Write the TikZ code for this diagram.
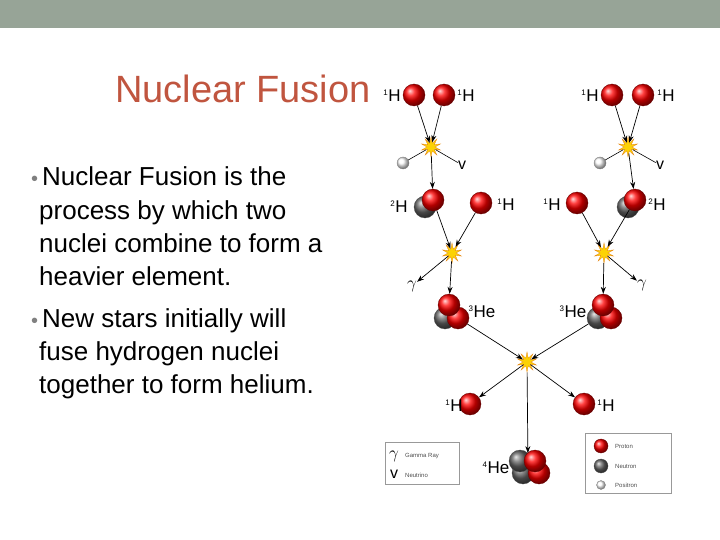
\documentclass[tikz,border=0pt]{standalone}
\usepackage{fontspec}
\setmainfont{Liberation Sans}
\usetikzlibrary{arrows.meta,shapes.geometric}
\definecolor{bar}{HTML}{97A497}
\definecolor{ttl}{HTML}{C0553F}
\newcommand{\sy}[1]{\textsuperscript{\footnotesize #1}}
\begin{document}
\begin{tikzpicture}[x=1pt,y=-1pt,
 pr/.style={circle,inner sep=0pt,minimum size=22pt,ball color=red,draw=red!40!black,line width=0.3pt},
 ne/.style={circle,inner sep=0pt,minimum size=22pt,ball color=gray!80!black,draw=black!70,line width=0.3pt},
 po/.style={circle,inner sep=0pt,minimum size=12pt,ball color=white,draw=gray,line width=0.3pt},
 lbl/.style={font=\fontsize{17}{17}\selectfont,inner sep=0pt},
 gr/.style={font=\fontsize{16}{16}\selectfont\rmfamily,inner sep=0pt},
 burst/.style={star,star points=10,star point ratio=2.5,minimum size=20pt,inner sep=0pt,fill=yellow!70!orange,draw=orange!60!brown,line width=0.3pt},
 ar/.style={-{Stealth[length=7pt,width=5pt]},line width=0.7pt},
 bul/.style={font=\fontsize{26}{26}\selectfont,anchor=base west,inner sep=0pt},
 leg/.style={font=\fontsize{6}{6}\selectfont,anchor=west,inner sep=0pt,text=black!70}]
\useasboundingbox (0,0) rectangle (720,540);
\fill[bar] (0,0) rectangle (720,28);
\node[font=\fontsize{38}{38}\selectfont,text=ttl,anchor=base west,inner sep=0pt] (title) at (115,103) {Nuclear Fusion};
\node[bul,text=gray] (b1) at (31,186) {\fontsize{20}{20}\selectfont•};
\node[bul] (t1) at (42,186) {Nuclear Fusion is the};
\node[bul] (t2) at (39,219) {process by which two};
\node[bul] (t3) at (39,252) {nuclei combine to form a};
\node[bul] (t4) at (39,285) {heavier element.};
\node[bul,text=gray] (b2) at (31,327) {\fontsize{20}{20}\selectfont•};
\node[bul] (t5) at (42,327) {New stars initially will};
\node[bul] (t6) at (39,360) {fuse hydrogen nuclei};
\node[bul] (t7) at (39,393) {together to form helium.};
% left chain
\node[lbl] (l1) at (392,96) {\sy{1}H};
\node[pr] (p1) at (414,95) {};
\node[pr] (p2) at (444,95) {};
\node[lbl] (l2) at (466,96) {\sy{1}H};
\node[burst] (s1) at (431,147) {};
\node[po] (e1) at (403,163) {};
\node[gr] (n1) at (462,165) {v};
\draw[ar] (p1) -- (s1); \draw[ar] (p2) -- (s1);
\draw[line width=0.6pt] (s1) -- (e1); \draw[line width=0.6pt] (s1) -- (n1);
\node[ne] (d1n) at (425,207) {};
\node[pr] (d1p) at (433,200) {};
\node[lbl] (l3) at (399,207) {\sy{2}H};
\draw[ar] (s1) -- (d1p);
\node[pr] (p3) at (481,203) {};
\node[lbl] (l4) at (506,205) {\sy{1}H};
\node[burst] (s2) at (452,253) {};
\draw[ar] (d1p) -- (s2); \draw[ar] (p3) -- (s2);
\node[gr] (g1) at (412,286) {$\gamma$};
\draw[ar] (s2) -- (g1);
\node[ne] (h1a) at (445,318) {};
\node[pr] (h1b) at (458,318) {};
\node[pr] (h1c) at (449,305) {};
\node[lbl] (l5) at (482,312) {\sy{3}He};
\draw[ar] (s2) -- (h1c);
% right chain
\node[lbl] (r1) at (590,96) {\sy{1}H};
\node[pr] (q1) at (612,95) {};
\node[pr] (q2) at (643,95) {};
\node[lbl] (r2) at (666,96) {\sy{1}H};
\node[burst] (s3) at (628,147) {};
\node[po] (e2) at (600,163) {};
\node[gr] (n2) at (660,165) {v};
\draw[ar] (q1) -- (s3); \draw[ar] (q2) -- (s3);
\draw[line width=0.6pt] (s3) -- (e2); \draw[line width=0.6pt] (s3) -- (n2);
\node[ne] (d2n) at (628,207) {};
\node[pr] (d2p) at (635,200) {};
\node[lbl] (r3) at (657,205) {\sy{2}H};
\draw[ar] (s3) -- (d2p);
\node[pr] (q3) at (577,203) {};
\node[lbl] (r4) at (552,205) {\sy{1}H};
\node[burst] (s4) at (604,253) {};
\draw[ar] (d2p) -- (s4); \draw[ar] (q3) -- (s4);
\node[gr] (g2) at (642,285) {$\gamma$};
\draw[ar] (s4) -- (g2);
\node[ne] (h2a) at (598,318) {};
\node[pr] (h2b) at (611,318) {};
\node[pr] (h2c) at (603,305) {};
\node[lbl] (r5) at (573,312) {\sy{3}He};
\draw[ar] (s4) -- (h2c);
% center
\node[burst] (s5) at (527,362) {};
\draw[ar] (h1b) -- (s5); \draw[ar] (h2a) -- (s5);
\node[pr] (c1) at (470,404) {};
\node[lbl] (c1l) at (454,406) {\sy{1}H};
\node[pr] (c2) at (584,404) {};
\node[lbl] (c2l) at (606,406) {\sy{1}H};
\draw[ar] (s5) -- (c1); \draw[ar] (s5) -- (c2);
\node[ne] (f1) at (523,473) {};
\node[ne] (f2) at (520,461) {};
\node[pr] (f3) at (539,473) {};
\node[pr] (f4) at (535,461) {};
\node[lbl] (fl) at (496,468) {\sy{4}He};
\draw[ar] (s5) -- (f2.north east);
% legends
\draw[gray!80,line width=0.8pt] (385,442) rectangle (459,484);
\node[gr] (lg1) at (394,456) {$\gamma$};
\node[leg] (lg1t) at (405,456) {Gamma Ray};
\node[gr] (lg2) at (394,474) {v};
\node[leg] (lg2t) at (405,475) {Neutrino};
\draw[gray!80,line width=0.8pt] (585,433) rectangle (671,493);
\node[pr,minimum size=14pt] (k1) at (601,446) {};
\node[leg] (k1t) at (615,446) {Proton};
\node[ne,minimum size=14pt] (k2) at (601,466) {};
\node[leg] (k2t) at (615,466) {Neutron};
\node[po,minimum size=9pt] (k3) at (601,485) {};
\node[leg] (k3t) at (615,485) {Positron};
\end{tikzpicture}
\end{document}
